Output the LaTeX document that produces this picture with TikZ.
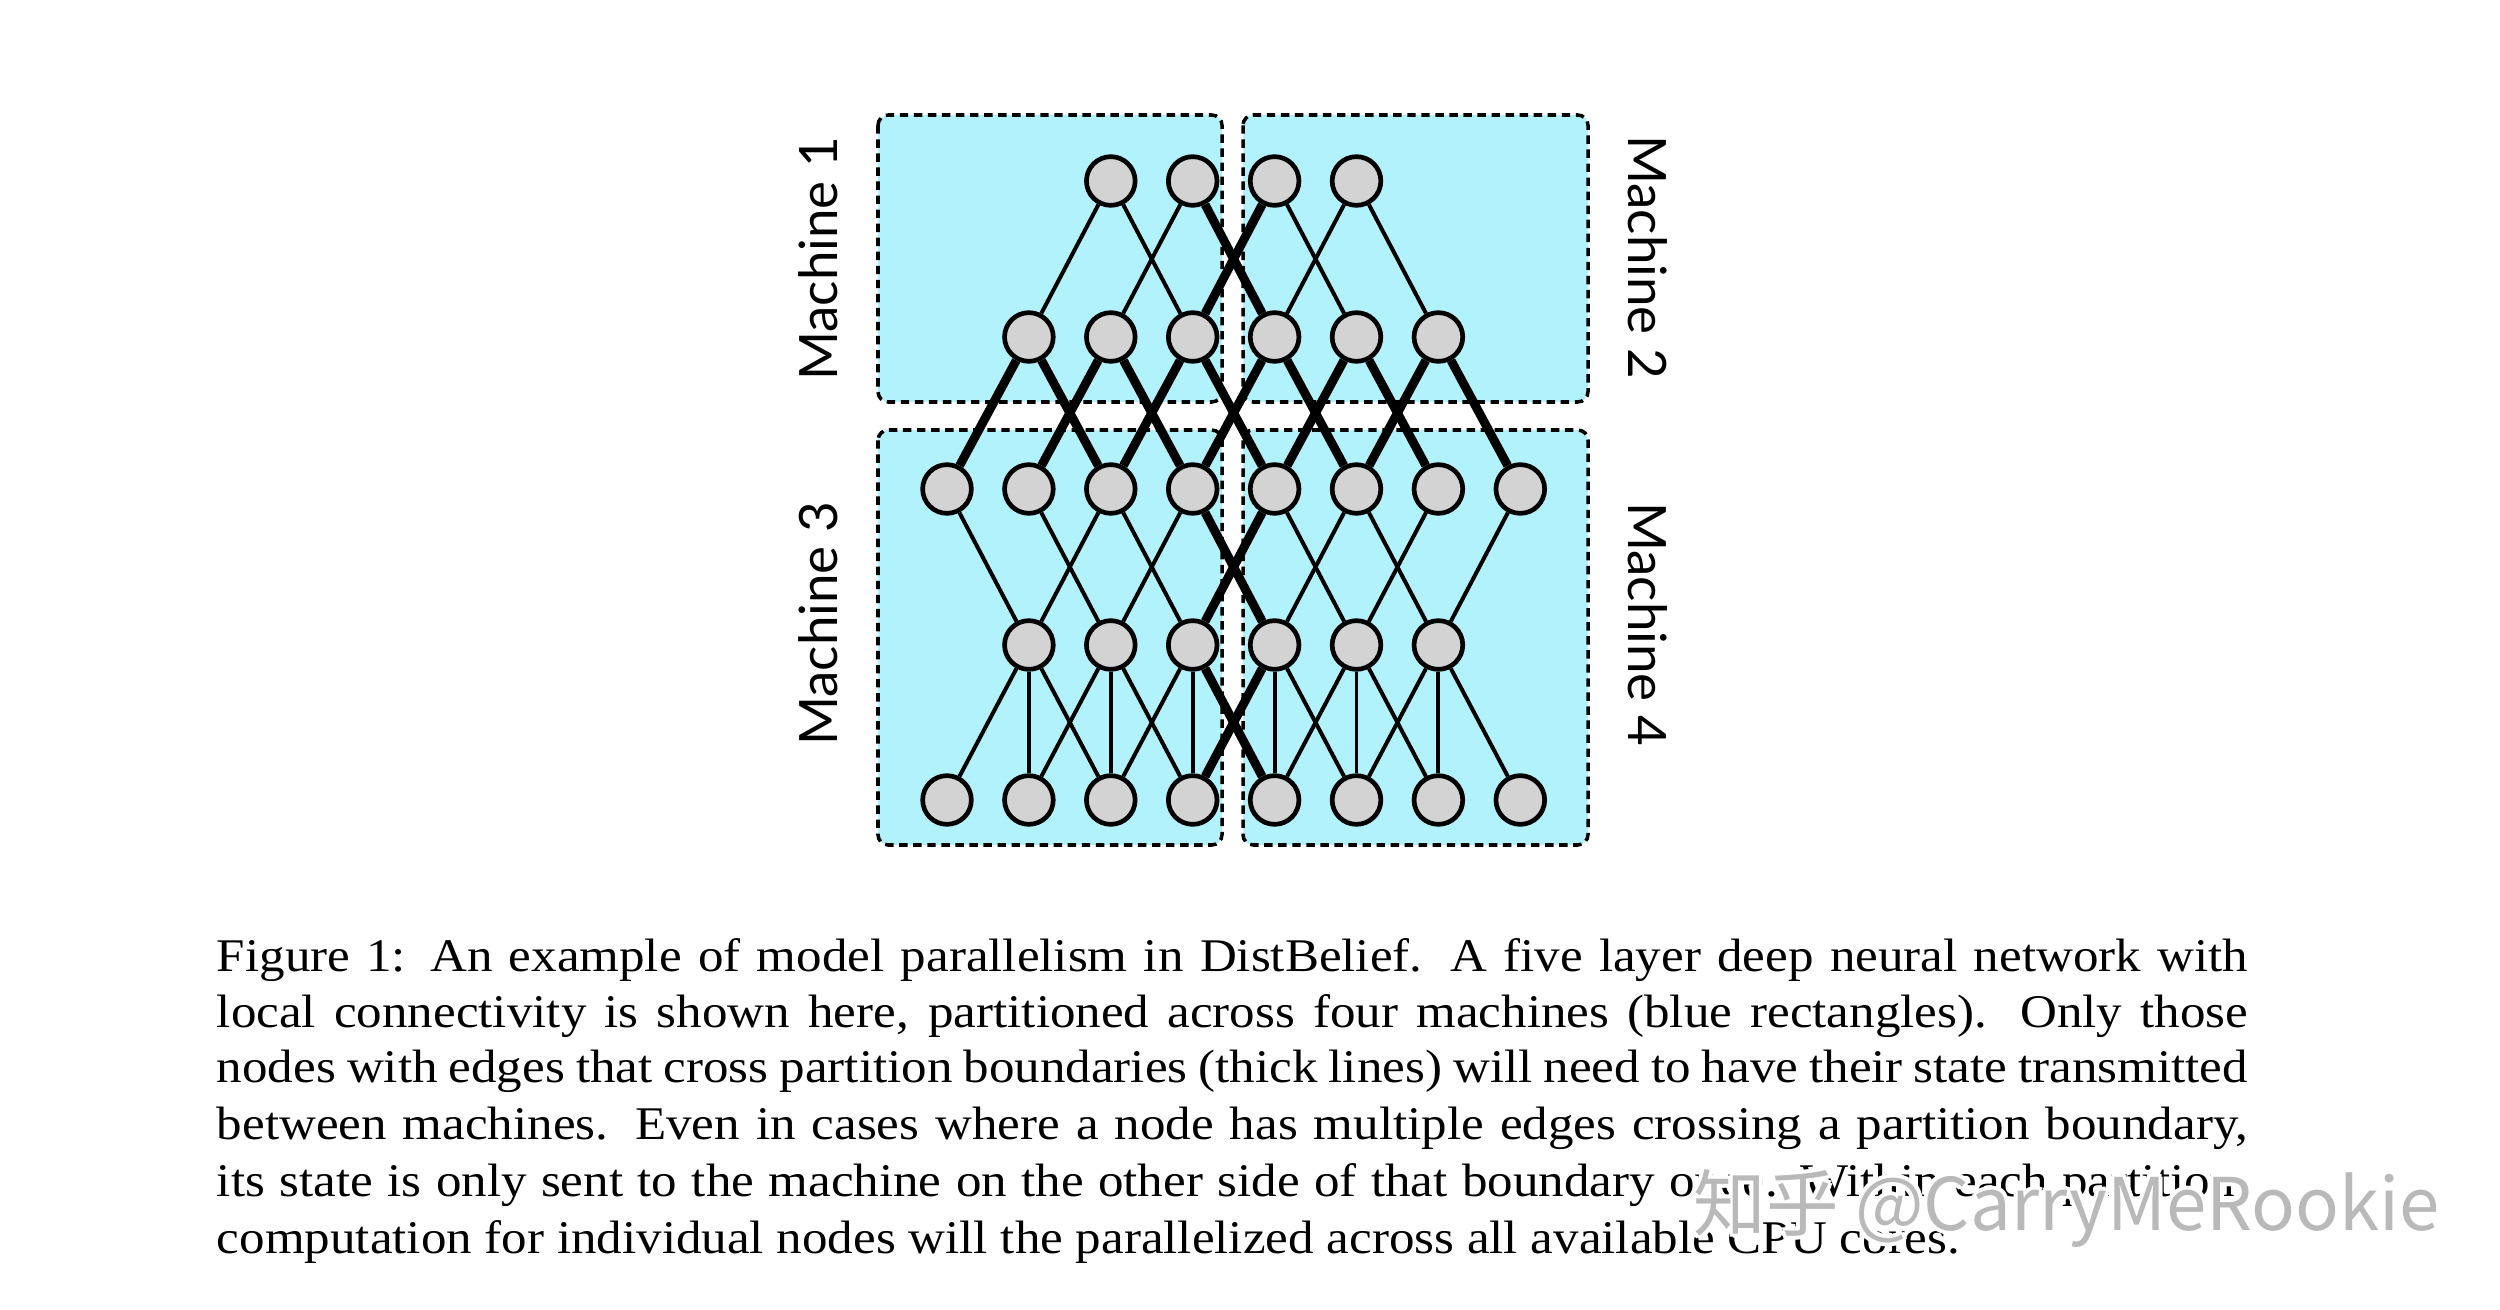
\documentclass[tikz,border=0pt]{standalone}
\usepackage{fontspec}
\setmainfont{Liberation Serif}[FakeStretch=1.09]
\newfontfamily\labelfont{Lato}
\newfontfamily\cjkfont{Noto Sans CJK SC}
\usetikzlibrary{backgrounds}
\definecolor{boxcyan}{RGB}{178,242,252}
\definecolor{nodegray}{RGB}{211,211,211}
\definecolor{wmgray}{RGB}{185,185,185}
\newcommand{\wmtext}{{\cjkfont 知乎 @CarryMeRookie}}
\begin{document}
\begin{tikzpicture}[x=0.0075cm,y=-0.0075cm,
  machinebox/.style={fill=boxcyan, draw=black, line width=0.75pt,
    dash pattern=on 1.8pt off 1.2pt, rounded corners=2.2pt},
  neuron/.style={circle, draw=black, fill=nodegray, line width=1pt,
    minimum size=10.4pt, inner sep=0pt},
  thinedge/.style={line width=0.85pt},
  thickedge/.style={line width=1.9pt},
  machlabel/.style={font=\labelfont\fontsize{11.3}{13}\selectfont, inner sep=0pt},
  captionline/.style={anchor=base west, inner sep=0pt, font=\fontsize{10}{12}\selectfont},
  wm/.style={anchor=base west, inner sep=0pt, font=\fontsize{15.5}{18}\selectfont}
]
\useasboundingbox (0,0) rectangle (2500,1310);

% neurons
\foreach \r/\y/\a/\b in {1/181/2/5, 2/337/1/6, 3/489/0/7, 4/645/1/6, 5/800/0/7} {
  \foreach \i in {\a,...,\b} {
    \node[neuron] (n\r-\i) at ({947+81.9*\i},\y) {};
  }
}

\begin{scope}[on background layer]
  \fill[white] (0,0) rectangle (2500,1310);
  % machine boxes
  \draw[machinebox] (878,115) rectangle (1222,402);
  \draw[machinebox] (1243,115) rectangle (1588,402);
  \draw[machinebox] (878,430) rectangle (1222,845);
  \draw[machinebox] (1243,430) rectangle (1588,845);

  % layer 1 -> layer 2
  \foreach \a/\b in {2/1,2/3,3/2,4/5,5/4,5/6}
    \draw[thinedge] (n1-\a) -- (n2-\b);
  \foreach \a/\b in {3/4,4/3}
    \draw[thickedge] (n1-\a) -- (n2-\b);

  % layer 2 -> layer 3 (all cross the horizontal boundary)
  \foreach \a/\b in {1/0,1/2,2/1,2/3,3/2,3/4,4/3,4/5,5/4,5/6,6/5,6/7}
    \draw[thickedge] (n2-\a) -- (n3-\b);

  % layer 3 -> layer 4
  \foreach \a/\b in {0/1,2/1,1/2,3/2,2/3,5/4,4/5,6/5,5/6,7/6}
    \draw[thinedge] (n3-\a) -- (n4-\b);
  \foreach \a/\b in {4/3,3/4}
    \draw[thickedge] (n3-\a) -- (n4-\b);

  % layer 4 -> layer 5
  \foreach \a/\b in {1/0,1/1,1/2,2/1,2/2,2/3,3/2,3/3,4/4,4/5,5/4,5/5,5/6,6/5,6/6,6/7}
    \draw[thinedge] (n4-\a) -- (n5-\b);
  \foreach \a/\b in {3/4,4/3}
    \draw[thickedge] (n4-\a) -- (n5-\b);
\end{scope}

% machine labels
\node[machlabel, rotate=90] (m1) at (818,259) {Machine 1};
\node[machlabel, rotate=-90] (m2) at (1648,257) {Machine 2};
\node[machlabel, rotate=90] (m3) at (818,624) {Machine 3};
\node[machlabel, rotate=-90] (m4) at (1648,624) {Machine 4};

% caption
\node[captionline] (c1) at (216,971) {\makebox[433.8pt][s]{Figure 1: An example of model parallelism in DistBelief. A five layer deep neural network with}};
\node[captionline] (c2) at (216,1027) {\makebox[433.8pt][s]{local connectivity is shown here, partitioned across four machines (blue rectangles). Only those}};
\node[captionline] (c3) at (216,1083) {\makebox[433.8pt][s]{nodes with edges that cross partition boundaries (thick lines) will need to have their state transmitted}};
\node[captionline] (c4) at (216,1139) {\makebox[433.8pt][s]{between machines. Even in cases where a node has multiple edges crossing a partition boundary,}};
\node[captionline] (c5) at (216,1196) {\makebox[433.8pt][s]{its state is only sent to the machine on the other side of that boundary once. Within each partition,}};
\node[captionline] (c6) at (216,1253) {computation for individual nodes will the parallelized across all available CPU cores.};

% watermark
\foreach \dx/\dy [count=\k] in {-3/-3,3/-3,-3/3,3/3,0/-4,0/4,-4/0,4/0}
  \node[wm, text=white] (wmh\k) at ({1693+\dx},{1230+\dy}) {\wmtext};
\node[wm, text=wmgray] (wmark) at (1693,1230) {\wmtext};
\end{tikzpicture}
\end{document}
